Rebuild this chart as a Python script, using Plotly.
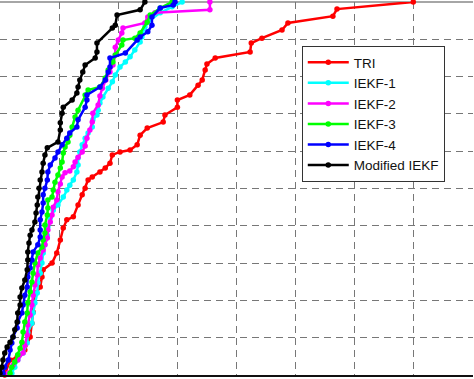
import plotly.graph_objects as go

# Series data (x: error value, y: cumulative probability)
tri_x = [0.08, 0.17, 0.29, 0.42, 0.51, 0.54, 0.56, 0.56, 0.61, 0.68,
         0.71, 0.73, 0.88, 0.96, 1.02, 1.07, 1.13, 1.24, 1.32, 1.39,
         1.44, 1.49, 1.56, 1.69, 1.78, 1.86, 1.90, 2.03, 2.20, 2.32,
         2.37, 2.49, 2.76, 2.79, 3.00, 3.00, 3.21, 3.35, 3.42, 3.47,
         3.50, 3.64, 4.23, 4.25, 4.43, 4.77, 4.87, 5.63, 5.70, 6.99]
tri_y = [0.0, 0.040, 0.048, 0.067, 0.102, 0.139, 0.169, 0.196, 0.220, 0.236,
         0.263, 0.282, 0.300, 0.327, 0.362, 0.394, 0.416, 0.424, 0.456, 0.483,
         0.501, 0.523, 0.531, 0.544, 0.555, 0.568, 0.590, 0.598, 0.603, 0.617,
         0.643, 0.662, 0.678, 0.697, 0.718, 0.737, 0.751, 0.777, 0.791, 0.818,
         0.834, 0.850, 0.866, 0.890, 0.903, 0.925, 0.944, 0.962, 0.981, 1.0]

iekf1_x = [0.20, 0.25, 0.30, 0.39, 0.46, 0.47, 0.54, 0.56, 0.59, 0.63,
           0.64, 0.68, 0.71, 0.73, 0.76, 0.80, 0.81, 0.85, 0.90, 0.98,
           1.07, 1.13, 1.18, 1.24, 1.30, 1.32, 1.32, 1.35, 1.39, 1.44,
           1.49, 1.56, 1.57, 1.64, 1.66, 1.69, 1.74, 1.83, 1.90, 1.95,
           2.03, 2.12, 2.20, 2.28, 2.37, 2.40, 2.45, 2.54, 2.71, 2.91, 3.08]
iekf1_y = [0.005, 0.021, 0.040, 0.059, 0.086, 0.113, 0.139, 0.166, 0.193, 0.220,
           0.247, 0.273, 0.300, 0.327, 0.349, 0.375, 0.397, 0.421, 0.442, 0.456,
           0.477, 0.496, 0.509, 0.523, 0.544, 0.563, 0.582, 0.598, 0.617, 0.635,
           0.649, 0.665, 0.684, 0.697, 0.710, 0.729, 0.745, 0.769, 0.786, 0.804,
           0.826, 0.839, 0.853, 0.871, 0.893, 0.906, 0.933, 0.952, 0.971, 0.987, 1.0]

iekf2_x = [0.14, 0.22, 0.30, 0.39, 0.42, 0.46, 0.47, 0.51, 0.54, 0.56,
           0.59, 0.63, 0.64, 0.68, 0.73, 0.76, 0.80, 0.81, 0.85, 0.88,
           0.90, 0.96, 0.98, 1.02, 1.05, 1.10, 1.18, 1.24, 1.27, 1.32,
           1.39, 1.44, 1.47, 1.52, 1.56, 1.57, 1.66, 1.69, 1.73, 1.79,
           1.86, 1.91, 1.95, 1.95, 2.00, 2.06, 2.08, 2.45, 2.50, 2.62,
           3.55, 3.55]
iekf2_y = [0.005, 0.027, 0.040, 0.059, 0.080, 0.107, 0.134, 0.161, 0.188, 0.214,
           0.241, 0.268, 0.295, 0.314, 0.335, 0.349, 0.367, 0.389, 0.410, 0.429,
           0.450, 0.469, 0.491, 0.512, 0.531, 0.542, 0.547, 0.558, 0.571, 0.584,
           0.598, 0.614, 0.635, 0.657, 0.678, 0.702, 0.724, 0.748, 0.769, 0.791,
           0.812, 0.831, 0.858, 0.879, 0.898, 0.917, 0.930, 0.944, 0.960, 0.971,
           0.979, 1.0]

iekf3_x = [0.17, 0.20, 0.25, 0.30, 0.34, 0.37, 0.39, 0.42, 0.46, 0.47,
           0.51, 0.54, 0.56, 0.59, 0.64, 0.71, 0.73, 0.76, 0.76, 0.80,
           0.81, 0.81, 0.88, 0.90, 0.93, 0.98, 1.02, 1.05, 1.07, 1.10,
           1.15, 1.18, 1.22, 1.27, 1.32, 1.44, 1.49, 1.69, 1.78, 1.83,
           1.91, 1.95, 2.06, 2.08, 2.28, 2.37, 2.49, 2.54, 2.71, 2.91]
iekf3_y = [0.005, 0.021, 0.035, 0.054, 0.072, 0.088, 0.115, 0.142, 0.166, 0.193,
           0.223, 0.249, 0.273, 0.300, 0.327, 0.343, 0.362, 0.381, 0.402, 0.429,
           0.448, 0.469, 0.477, 0.496, 0.517, 0.536, 0.555, 0.571, 0.595, 0.611,
           0.625, 0.643, 0.665, 0.692, 0.710, 0.751, 0.764, 0.772, 0.796, 0.818,
           0.839, 0.858, 0.885, 0.898, 0.903, 0.917, 0.946, 0.965, 0.984, 1.0]

iekf4_x = [0.05, 0.08, 0.14, 0.17, 0.20, 0.22, 0.29, 0.30, 0.37, 0.39,
           0.42, 0.46, 0.47, 0.51, 0.54, 0.56, 0.64, 0.68, 0.68, 0.68,
           0.71, 0.73, 0.73, 0.76, 0.80, 0.81, 0.85, 0.93, 0.98, 1.05,
           1.13, 1.18, 1.30, 1.32, 1.44, 1.47, 1.47, 1.69, 1.78, 1.83,
           1.86, 1.86, 2.12, 2.32, 2.37, 2.50, 2.57, 2.57, 2.71, 2.93, 2.96]
iekf4_y = [0.005, 0.021, 0.040, 0.067, 0.086, 0.102, 0.126, 0.142, 0.166, 0.188,
           0.214, 0.236, 0.263, 0.287, 0.308, 0.330, 0.349, 0.370, 0.389, 0.416,
           0.437, 0.461, 0.483, 0.501, 0.523, 0.544, 0.563, 0.582, 0.598, 0.617,
           0.635, 0.649, 0.665, 0.684, 0.718, 0.737, 0.751, 0.772, 0.791, 0.812,
           0.826, 0.850, 0.863, 0.898, 0.906, 0.920, 0.938, 0.960, 0.984, 0.992, 1.0]

mod_x = [0.0, 0.03, 0.05, 0.08, 0.12, 0.17, 0.22, 0.25, 0.29, 0.30,
         0.34, 0.34, 0.37, 0.42, 0.46, 0.47, 0.47, 0.49, 0.51, 0.54,
         0.59, 0.61, 0.63, 0.64, 0.66, 0.68, 0.71, 0.73, 0.76, 0.80,
         0.98, 1.02, 1.02, 1.05, 1.07, 1.22, 1.30, 1.32, 1.35, 1.40,
         1.44, 1.61, 1.64, 1.64, 1.90, 1.95, 1.98, 2.37, 2.45]
mod_y = [0.005, 0.021, 0.040, 0.059, 0.075, 0.088, 0.102, 0.121, 0.142, 0.166,
         0.188, 0.209, 0.233, 0.255, 0.282, 0.308, 0.330, 0.354, 0.375, 0.389,
         0.410, 0.434, 0.456, 0.477, 0.501, 0.523, 0.544, 0.568, 0.590, 0.609,
         0.625, 0.657, 0.676, 0.702, 0.718, 0.737, 0.756, 0.772, 0.791, 0.812,
         0.831, 0.850, 0.866, 0.890, 0.930, 0.938, 0.965, 0.979, 1.0]

series_names = ["TRI", "IEKF-1", "IEKF-2", "IEKF-3", "IEKF-4", "Modified IEKF"]
series_x = [tri_x, iekf1_x, iekf2_x, iekf3_x, iekf4_x, mod_x]
series_y = [tri_y, iekf1_y, iekf2_y, iekf3_y, iekf4_y, mod_y]
colors = ["#ff0000", "#00ffff", "#ff00ff", "#00ff00", "#0000ff", "#000000"]

fig = go.Figure()
for i, (name, xs, ys, c) in enumerate(zip(series_names, series_x, series_y, colors)):
    fig.add_trace(go.Scatter(
        x=xs, y=ys, name=name, mode="lines+markers",
        line=dict(color=c, width=2.5),
        marker=dict(color=c, size=5.5),
        legendrank=i + 1,
        cliponaxis=False,
    ))

fig.update_layout(
    width=474, height=379,
    margin=dict(l=0, r=1, t=2, b=4),
    paper_bgcolor="white", plot_bgcolor="white",
    font=dict(family="Liberation Sans, Arial, sans-serif", size=14, color="#111"),
    showlegend=True,
    legend=dict(
        x=0.638, y=0.882, xanchor="left", yanchor="top",
        bgcolor="white", bordercolor="#333", borderwidth=1,
        traceorder="normal", itemwidth=41,
        font=dict(size=13.5, color="#111"),
    ),
    xaxis=dict(
        range=[0, 8], dtick=1, showticklabels=False, ticks="",
        showgrid=True, gridcolor="#777", gridwidth=1, griddash="7px,5px",
        zeroline=False, showline=True, linecolor="#111", linewidth=2,
    ),
    yaxis=dict(
        range=[0, 1], dtick=0.1, showticklabels=False, ticks="",
        showgrid=True, gridcolor="#777", gridwidth=1, griddash="7px,5px",
        zeroline=False, showline=False,
    ),
    shapes=[dict(type="line", xref="paper", yref="paper", x0=0, x1=1, y0=1, y1=1,
                 line=dict(color="#888", width=1.5), layer="below")],
)

fig.write_html(
    "out.html",
    config={"displayModeBar": False},
    post_script="document.body.style.margin='0';document.body.style.overflow='hidden';",
)
